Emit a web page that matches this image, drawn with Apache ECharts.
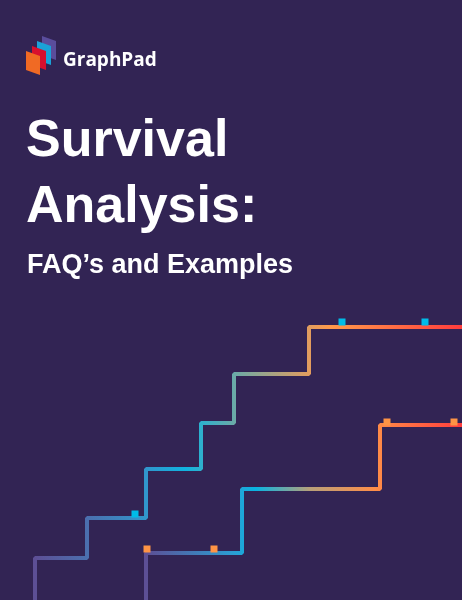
<!DOCTYPE html>
<html><head><meta charset="utf-8">
<script src="https://cdn.jsdelivr.net/npm/echarts@6/dist/echarts.min.js"></script>
<style>html,body{margin:0;padding:0;background:#322454;}#c{width:462px;height:600px;}</style>
</head><body><div id="c"></div>
<script>
// Survival curves (x = time, y = cumulative level; drawn as steps)
const timeA = [35, 35, 87, 146, 201, 234, 309, 462];
const levelA = [0, 42, 82, 131, 177, 226, 273, 273];
const censorA = [[135, 86], [342, 278], [425, 278]];
const timeB = [146, 146, 242, 380, 462];
const levelB = [0, 47, 111, 175, 175];
const censorB = [[147, 51], [214, 51], [387, 178], [454, 178]];

const chart = echarts.init(document.getElementById('c'));
const grad = (stops) => new echarts.graphic.LinearGradient(0, 0, 462, 0,
  stops.map(s => ({offset: s[0] / 462, color: s[1]})), true);
chart.setOption({
  backgroundColor: '#322454',
  animation: false,
  grid: {left: 0, right: 0, top: 0, bottom: 0},
  xAxis: {type: 'value', min: 0, max: 462, show: false},
  yAxis: {type: 'value', min: 0, max: 600, show: false},
  series: [
    {type: 'line', step: 'end', symbol: 'none', z: 2, data: timeA.map((t, i) => [t, levelA[i]]),
     lineStyle: {width: 4, cap: 'square', color: grad([[35,'#5d4f95'],[87,'#4b6fae'],[146,'#3196cc'],[185,'#10b3e0'],[234,'#6aaaa8'],[300,'#d49e68'],[330,'#ff9a4a'],[462,'#ff3d3d']])}},
    {type: 'line', step: 'end', symbol: 'none', z: 2, data: timeB.map((t, i) => [t, levelB[i]]),
     lineStyle: {width: 4, cap: 'square', color: grad([[146,'#5d4f95'],[235,'#2a9fd4'],[255,'#08b4e2'],[310,'#b8a07a'],[375,'#ff8e48'],[462,'#ff3d3d']])}},
    {type: 'scatter', symbol: 'rect', symbolSize: 7, z: 5, itemStyle: {color: '#00bce8', opacity: 1}, data: censorA},
    {type: 'scatter', symbol: 'rect', symbolSize: 7, z: 5, itemStyle: {color: '#ff9445', opacity: 1}, data: censorB}
  ],
  graphic: [
    {type: 'polygon', shape: {points: [[42,36],[56,41],[56,60],[42,55]]}, style: {fill: '#5a4d9c'}},
    {type: 'polygon', shape: {points: [[37,41],[51,46],[51,65],[37,60]]}, style: {fill: '#1aa2d8'}},
    {type: 'polygon', shape: {points: [[32,46],[46,51],[46,70],[32,65]]}, style: {fill: '#d8102e'}},
    {type: 'polygon', shape: {points: [[26,51],[40,56],[40,75],[26,70]]}, style: {fill: '#f06a24'}},
    {type: 'text', left: 63, top: 51, style: {text: 'GraphPad', fill: '#fff', font: 'bold 19px "Open Sans", sans-serif'}},
    {type: 'text', left: 26, top: 116, style: {text: 'Survival', fill: '#fff', font: 'bold 52px "Liberation Sans", Arial, sans-serif'}},
    {type: 'text', left: 26, top: 182, style: {text: 'Analysis:', fill: '#fff', font: 'bold 52px "Liberation Sans", Arial, sans-serif'}},
    {type: 'text', left: 27, top: 252, style: {text: 'FAQ’s and Examples', fill: '#fff', font: 'bold 27px "Liberation Sans", Arial, sans-serif'}}
  ]
});
</script></body></html>
